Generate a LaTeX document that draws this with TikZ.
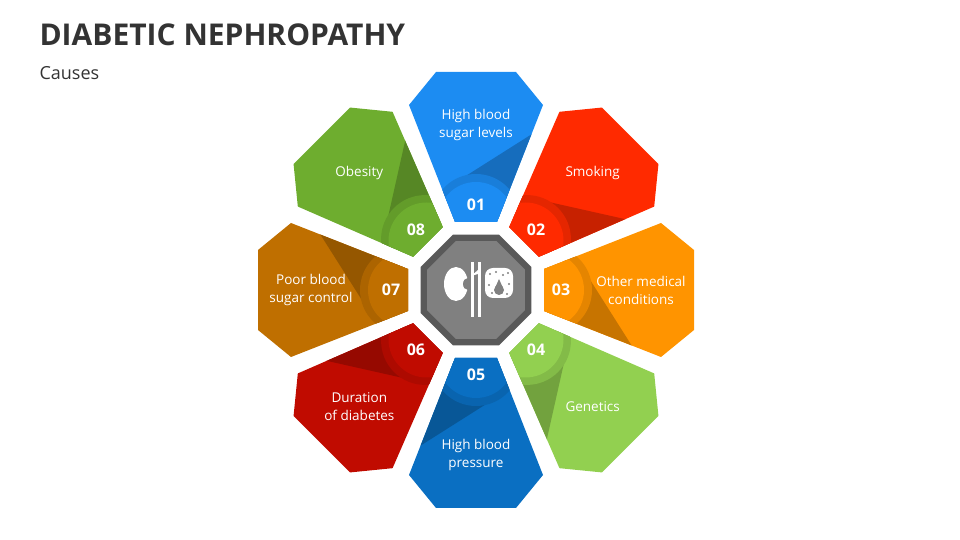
\documentclass[tikz,border=0pt]{standalone}
\usepackage{fontspec}
\setmainfont{Open Sans}
\usetikzlibrary{calc}
\begin{document}
\begin{tikzpicture}[x=1pt,y=1pt,
  lbl/.style={text=white,align=center,font=\fontsize{13.5}{18}\selectfont},
  numl/.style={text=white,font=\bfseries\fontsize{16}{18}\selectfont}]
\useasboundingbox (0,0) rectangle (960,540);
\node[anchor=west,font=\bfseries\fontsize{30}{34}\selectfont,text=black!80] (title) at (36,505) {DIABETIC NEPHROPATHY};
\node[anchor=west,font=\fontsize{18}{20}\selectfont,text=black!80] (sub) at (36,467) {Causes};
\coordinate (c) at (476,250);
\foreach \a/\col/\num/\txt in {90/1C8CF2/01/{High blood\\sugar levels},45/FF2A00/02/{Smoking},0/FF9400/03/{Other medical\\conditions},-45/92D050/04/{Genetics},-90/0A6FC2/05/{High blood\\pressure},-135/C00B00/06/{Duration\\of diabetes},180/BF6F00/07/{Poor blood\\sugar control},135/6EAD2F/08/{Obesity}}{
  \definecolor{pc}{HTML}{\col}
  \begin{scope}[shift={(c)},rotate=\a-90]
    \path[clip] (-21,68)--(21,68)--(67,185)--(40,218)--(-40,218)--(-67,185)--cycle;
    \fill[pc] (-80,60) rectangle (80,230);
    \fill[pc!78!black] (-45,92)--(75,168)--(75,55)--cycle;
    \fill[pc!90!black] (0,72) circle (44);
    \fill[pc] (0,70) circle (38);
  \end{scope}
  \node[lbl] at ($(c)+(\a:165)$) {\txt};
  \node[numl] at ($(c)+(\a:85)$) {\num};
}
% center octagon
\fill[black!65] ($(c)+(22.5:60)$) \foreach \k in {1,...,7}{ -- ($(c)+({22.5+45*\k}:60)$)} -- cycle;
\fill[black!50] ($(c)+(22.5:53)$) \foreach \k in {1,...,7}{ -- ($(c)+({22.5+45*\k}:53)$)} -- cycle;
% icon
\begin{scope}[shift={(c)}]
  \fill[white] (-20,6) ellipse (12 and 17);
  \fill[black!50] (-8,6) ellipse (5 and 6);
  \fill[white] (-5,14) -- (2,20) -- (2,16) -- cycle;
  \fill[white] (-5,-27) rectangle (-2,28);
  \fill[white] (2,-27) rectangle (5,28);
  \fill[white,rounded corners=8] (9,-8) rectangle (37,22);
  \fill[black!50] (23,0) circle (5);
  \fill[black!50] (23,11) -- (19,2) -- (27,2) -- cycle;
  \foreach \p in {(14,16),(32,17),(13,5),(33,6),(16,-3),(31,-4),(20,18),(27,15)}
    \fill[black!50] \p circle (1.2);
\end{scope}
\end{tikzpicture}
\end{document}
